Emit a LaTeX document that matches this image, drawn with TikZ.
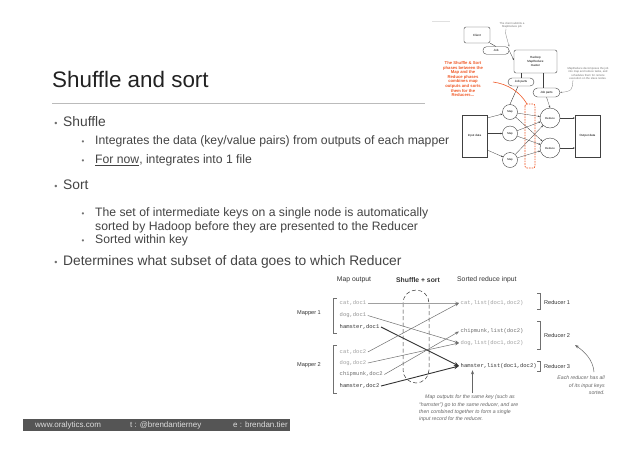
\documentclass[tikz,border=0pt]{standalone}
\usepackage{fontspec}
\setmainfont{Liberation Sans}
\newfontfamily\monof{Liberation Mono}
\usetikzlibrary{arrows.meta}
\definecolor{txt}{HTML}{444444}
\definecolor{ttl}{HTML}{222222}
\definecolor{rule}{HTML}{BBBBBB}
\definecolor{lg}{HTML}{A0A0A0}
\definecolor{mg}{HTML}{707070}
\definecolor{dg}{HTML}{333333}
\definecolor{orng}{HTML}{F05A28}
\definecolor{foot}{HTML}{555555}
\definecolor{foottxt}{HTML}{DDDDDD}
\definecolor{note}{HTML}{666666}
\begin{document}
\begin{tikzpicture}[x=1pt,y=-1pt,
  lvlone/.style={anchor=base west, inner sep=0pt, text=txt, font=\fontsize{13.8}{16}\selectfont},
  lvltwo/.style={anchor=base west, inner sep=0pt, text=txt, font=\fontsize{12.2}{14}\selectfont},
  bulone/.style={anchor=base, inner sep=0pt, text=mg, font=\fontsize{9}{10}\selectfont},
  bultwo/.style={anchor=base, inner sep=0pt, text=mg, font=\fontsize{8}{10}\selectfont},
  mono/.style={anchor=west, inner sep=1.5pt, font=\monof\fontsize{5.5}{6}\selectfont},
  hd/.style={inner sep=1pt, text=dg, font=\fontsize{6.8}{8}\selectfont},
  lab/.style={inner sep=1pt, text=dg, font=\fontsize{5.6}{7}\selectfont},
  conn/.style={draw=mg, line width=0.5pt, -{Stealth[length=4pt,width=3pt]}},
  connk/.style={draw=dg, line width=0.9pt, -{Stealth[length=5pt,width=4pt]}},
  hand/.style={inner sep=0pt, text=note, font=\itshape\fontsize{5.2}{7.3}\selectfont},
  rbox/.style={draw=black!75, line width=0.4pt, rounded corners=2pt, inner sep=0pt, align=center, font=\fontsize{3}{3.8}\selectfont},
  mcirc/.style={draw=black!75, line width=0.4pt, circle, inner sep=0pt, font=\fontsize{2.8}{3}\selectfont},
  tiny/.style={draw=black!75, line width=0.3pt, -{Stealth[length=2pt,width=1.6pt]}},
  tnote/.style={inner sep=0pt, align=center, text=black!55, font=\fontsize{2.8}{3.5}\selectfont}
]
\fill[white] (0,0) rectangle (638,451);
\useasboundingbox (0,0) rectangle (638,451);

% ---- title and bullets ----
\node[anchor=base west, inner sep=0pt, text=ttl, font=\fontsize{22.4}{26}\selectfont] (title) at (52,87) {Shuffle and sort};
\coordinate (ruleA) at (52,103);
\coordinate (ruleB) at (425,103);
\draw[rule, line width=0.8pt] (ruleA) -- (ruleB);

\node[bulone] (b1) at (56,126) {•};
\node[lvlone] (t1) at (63,126) {Shuffle};
\node[bultwo] (b2) at (83,144.5) {•};
\node[lvltwo] (t2) at (95,144.5) {Integrates the data (key/value pairs) from outputs of each mapper};
\node[bultwo] (b3) at (83,163.5) {•};
\node[lvltwo] (t3) at (95,163.5) {\underline{For now}, integrates into 1 file};
\node[bulone] (b4) at (56,189) {•};
\node[lvlone] (t4) at (63,189) {Sort};
\node[bultwo] (b5) at (83,216.5) {•};
\node[lvltwo] (t5) at (95,216.5) {The set of intermediate keys on a single node is automatically};
\node[lvltwo] (t6) at (95,230.5) {sorted by Hadoop before they are presented to the Reducer};
\node[bultwo] (b7) at (83,243) {•};
\node[lvltwo] (t7) at (95,243) {Sorted within key};
\node[bulone] (b8) at (56,265) {•};
\node[lvlone] (t8) at (63,265) {Determines what subset of data goes to which Reducer};

% ---- footer ----
\fill[foot] (23,418.5) rectangle (290,430.5);
\node[anchor=base west, inner sep=0pt, text=foottxt, font=\fontsize{8}{9}\selectfont] (f1) at (35,427.5) {www.oralytics.com};
\node[anchor=base west, inner sep=0pt, text=foottxt, font=\fontsize{8}{9}\selectfont] (f2) at (130,427.5) {t : @brendantierney};
\node[anchor=base west, inner sep=0pt, text=foottxt, font=\fontsize{8}{9}\selectfont] (f3) at (233,427.5) {e : brendan.tier};

% ---- bottom diagram ----
\node[hd] (h1) at (354,280) {Map output};
\node[hd, font=\bfseries\fontsize{6.8}{8}\selectfont] (h2) at (418,280) {Shuffle + sort};
\node[hd, anchor=west] (h3) at (456,280) {Sorted reduce input};

\draw[dg, line width=0.5pt, dash pattern=on 4pt off 2.5pt, rounded corners=13pt] (403,290) rectangle (429,383);

\node[lab] (m1) at (309,313) {Mapper 1};
\node[lab] (m2) at (309,365) {Mapper 2};
\draw[mg, line width=0.6pt] (336.5,298) -- (333,298) -- (333,333) -- (336.5,333);
\draw[mg, line width=0.6pt] (336.5,345) -- (333,345) -- (333,393) -- (336.5,393);

\node[mono, text=lg] (a1) at (338,303) {cat,doc1};
\node[mono, text=lg!90!black] (a2) at (338,315.5) {dog,doc1};
\node[mono, text=dg] (a3) at (338,327) {hamster,doc1};
\node[mono, text=lg] (c1) at (338,352) {cat,doc2};
\node[mono, text=lg] (c2) at (338,363) {dog,doc2};
\node[mono, text=mg] (c3) at (338,374.5) {chipmunk,doc2};
\node[mono, text=dg] (c4) at (338,386) {hamster,doc2};

\node[mono, text=lg] (r1) at (459,303) {cat,list(doc1,doc2)};
\node[mono, text=mg] (r2) at (459,331.5) {chipmunk,list(doc2)};
\node[mono, text=lg] (r3) at (459,343) {dog,list(doc1,doc2)};
\node[mono, text=dg] (r4) at (459,366) {hamster,list(doc1,doc2)};

\draw[mg, line width=0.6pt] (537,293) -- (540.5,293) -- (540.5,309) -- (537,309);
\draw[mg, line width=0.6pt] (537,321) -- (540.5,321) -- (540.5,349) -- (537,349);
\draw[mg, line width=0.6pt] (537,361.5) -- (540.5,361.5) -- (540.5,371) -- (537,371);
\node[lab, anchor=west] (q1) at (543,302) {Reducer 1};
\node[lab, anchor=west] (q2) at (543,335) {Reducer 2};
\node[lab, anchor=west] (q3) at (543,366) {Reducer 3};

\draw[conn, draw=lg] (a1.east) -- (r1.west);
\draw[conn] (a2.east) -- (r3.west);
\draw[connk] (a3.east) -- (r4.west);
\draw[conn] (c1.east) -- (r1.west);
\draw[conn] (c2.east) -- (r3.west);
\draw[conn] (c3.east) -- (r2.west);
\draw[connk] (c4.east) -- (r4.west);

\node[hand, anchor=north west, align=left] (n1) at (419,395) {\hspace*{6pt}Map outputs for the same key (such as\\``hamster'') go to the same reducer, and are\\then combined together to form a single\\input record for the reducer.};
\coordinate (n1t) at (472.5,393);
\draw[draw=note, line width=0.5pt, -{Stealth[length=4pt,width=3pt]}] (n1t) -- (r4.south west -| n1t);

\node[hand, anchor=north east, align=right] (n2) at (605,376) {Each reducer has all\\of its input keys\\sorted.};
\coordinate (n2t) at (594,372);
\coordinate (n2h) at (575,345);
\draw[draw=note, line width=0.5pt, -{Stealth[length=4pt,width=3pt]}] (n2t) .. controls (593,360) and (585,352) .. (n2h);

% ---- top-right diagram ----
\coordinate (fa) at (432,21);
\coordinate (fb) at (450,21);
\draw[black!12, line width=0.5pt] (fa) -- (fb);

\node[rbox, minimum width=26pt, minimum height=16pt] (client) at (477,35) {Client};
\node[rbox, minimum width=26pt, minimum height=7.5pt, rounded corners=3.5pt] (job) at (496,50.5) {Job};
\node[rbox, minimum width=43pt, minimum height=23pt] (master) at (535.5,61.5) {Hadoop\\MapReduce\\master};
\node[rbox, minimum width=26pt, minimum height=8pt, rounded corners=4pt] (jpl) at (521,82) {Job parts};
\node[rbox, minimum width=27pt, minimum height=9pt, rounded corners=4.5pt] (jpr) at (546.5,92.5) {Job parts};
\node[tnote] (cn) at (512,25.5) {The client submits a\\MapReduce job};
\node[tnote] (mn) at (588,73.5) {MapReduce decomposes the job\\into map and reduce tasks, and\\schedules them for remote\\execution on the slave nodes.};

\draw[black!75, line width=0.4pt] (client.south east) -- (job.north);
\draw[tiny] (job.east) -- (master.west |- 0,60);
\draw[black!75, line width=0.4pt] (master.south -| jpl) -- (jpl.north);
\draw[black!75, line width=0.4pt] (master.south -| 543,0) -- (jpr.north -| 543,0);
\draw[tiny, draw=black!50] (cn.south) ++(-6,0) .. controls +(-1,3) .. (job.north east);
\draw[tiny, draw=black!50] (mn.south) ++(-15,0) .. controls (572,91) .. (jpr.east);

\node[rbox, rounded corners=0pt, minimum width=25pt, minimum height=42pt] (ind) at (474.5,136) {Input data};
\node[rbox, rounded corners=0pt, minimum width=25pt, minimum height=42pt] (outd) at (587.5,136) {Output data};
\node[mcirc, minimum size=15pt] (map1) at (510,112) {Map};
\node[mcirc, minimum size=15pt] (map2) at (510,133.5) {Map};
\node[mcirc, minimum size=15pt] (map3) at (510,160) {Map};
\node[mcirc, minimum size=20pt] (red1) at (550,118) {Reduce};
\node[mcirc, minimum size=20pt] (red2) at (550,148) {Reduce};

\draw[orng, line width=0.7pt, dash pattern=on 1.6pt off 1pt, rounded corners=2pt] (525,104) rectangle (535,168);

\draw[tiny] (ind.east |- 0,118) -- (map1);
\draw[tiny] (ind.east |- 0,133.5) -- (map2);
\draw[tiny] (ind.east |- 0,150) -- (map3);
\foreach \m in {map1,map2,map3}{
  \draw[tiny] (\m) -- (red1);
  \draw[tiny] (\m) -- (red2);
}
\draw[tiny] (red1) -- (outd.west |- red1);
\draw[tiny] (red2) -- (outd.west |- red2);
\draw[black!75, line width=0.4pt] (jpl.south) ++(-3,0) coordinate (jplb) -- (map1.north);
\draw[tiny] (jpr.south) -- (red1.north);

\node[inner sep=0pt, align=center, text=orng, font=\bfseries\fontsize{4.2}{4.6}\selectfont] (on) at (463,79) {The Shuffle \& Sort\\phases between the\\Map and the\\Reduce phases\\combines map\\outputs and sorts\\them for the\\Reducers...};
\coordinate (oa) at (493,82);
\coordinate (ob) at (527,104);
\draw[orng, line width=0.6pt] (oa) .. controls (508,84) and (520,92) .. (ob);
\end{tikzpicture}
\end{document}
